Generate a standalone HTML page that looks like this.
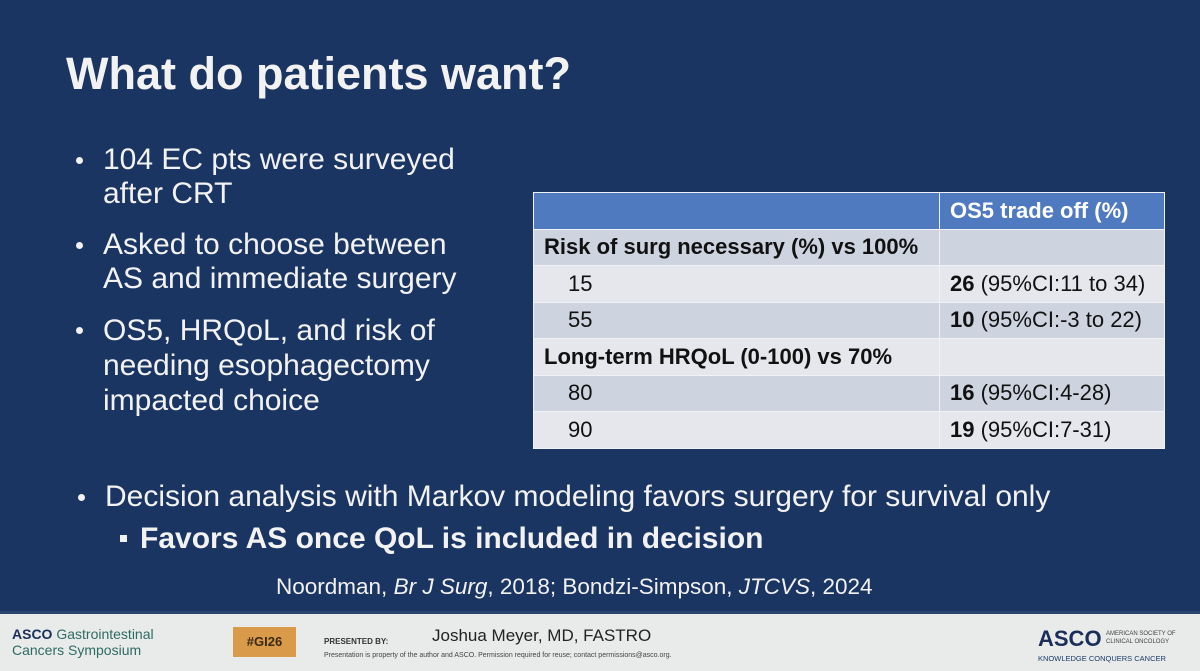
<!DOCTYPE html>
<html><head><meta charset="utf-8"><style>
*{margin:0;padding:0;box-sizing:border-box}
body{width:1200px;height:671px;overflow:hidden;background:#1b3563;font-family:"Liberation Sans",Arial,sans-serif;position:relative}
.a{position:absolute;white-space:nowrap}
.w{color:#f2f2f2}
.b{font-size:30px;line-height:34px}
.dot{position:absolute;width:7px;height:7px;border-radius:50%;background:#f2f2f2}
table{position:absolute;left:533px;top:192px;width:632px;border-collapse:collapse;font-size:22px;color:#111}
td{height:36.5px;border:1.5px solid #f0f2f6;padding:0 10px;vertical-align:middle}
</style></head><body>
<div class="a w" style="left:66px;top:48px;font-size:45px;font-weight:bold">What do patients want?</div>

<div class="dot" style="left:76px;top:157px"></div>
<div class="a w b" style="left:103px;top:143px">104 EC pts were surveyed<br>after CRT</div>
<div class="dot" style="left:76px;top:242px"></div>
<div class="a w b" style="left:103px;top:228px">Asked to choose between<br>AS and immediate surgery</div>
<div class="dot" style="left:76px;top:327px"></div>
<div class="a w b" style="left:103px;top:313px;line-height:35px">OS5, HRQoL, and risk of<br>needing esophagectomy<br>impacted choice</div>

<table>
<tr style="background:#4f7ac0"><td style="width:406px"></td><td style="color:#fff;font-weight:bold">OS5 trade off (%)</td></tr>
<tr style="background:#cdd3df"><td style="font-weight:bold">Risk of surg necessary (%) vs 100%</td><td></td></tr>
<tr style="background:#e5e7ed"><td style="padding-left:34px">15</td><td><b>26</b> (95%CI:11 to 34)</td></tr>
<tr style="background:#cdd3df"><td style="padding-left:34px">55</td><td><b>10</b> (95%CI:-3 to 22)</td></tr>
<tr style="background:#e5e7ed"><td style="font-weight:bold">Long-term HRQoL (0-100) vs 70%</td><td></td></tr>
<tr style="background:#cdd3df"><td style="padding-left:34px">80</td><td><b>16</b> (95%CI:4-28)</td></tr>
<tr style="background:#e5e7ed"><td style="padding-left:34px">90</td><td><b>19</b> (95%CI:7-31)</td></tr>
</table>

<div class="dot" style="left:78px;top:494px"></div>
<div class="a w b" style="left:105px;top:480px">Decision analysis with Markov modeling favors surgery for survival only</div>
<div class="a" style="left:120px;top:535px;width:7px;height:7px;background:#f2f2f2"></div>
<div class="a w b" style="left:140px;top:522px;font-weight:bold">Favors AS once QoL is included in decision</div>
<div class="a w" style="left:276px;top:574px;font-size:22.5px">Noordman, <i>Br J Surg</i>, 2018; Bondzi-Simpson, <i>JTCVS</i>, 2024</div>

<div class="a" style="left:0;top:611px;width:1200px;height:60px;background:#e8ebea;border-top:3px solid #2b4470">
<div class="a" style="left:12px;top:12px;font-size:14px;line-height:16px;color:#2e6b62"><b style="color:#1b2e5a">ASCO</b> Gastrointestinal<br>Cancers Symposium</div>
<div class="a" style="left:233px;top:13px;width:63px;height:30px;background:#d99a4a;font-size:13px;font-weight:bold;color:#3a2a10;text-align:center;line-height:30px">#GI26</div>
<div class="a" style="left:324px;top:23px;font-size:8px;font-weight:bold;color:#333">PRESENTED BY:</div>
<div class="a" style="left:432px;top:12px;font-size:17px;color:#222">Joshua Meyer, MD, FASTRO</div>
<div class="a" style="left:324px;top:38px;font-size:7px;color:#444">Presentation is property of the author and ASCO. Permission required for reuse; contact permissions@asco.org.</div>
<div class="a" style="left:1038px;top:12px;font-size:22px;font-weight:bold;color:#1b2e5a">ASCO</div>
<div class="a" style="left:1106px;top:16px;font-size:6px;line-height:8px;color:#444">AMERICAN SOCIETY OF<br>CLINICAL ONCOLOGY</div>
<div class="a" style="left:1038px;top:40px;font-size:7.5px;color:#1b3a6a">KNOWLEDGE CONQUERS CANCER</div>
</div>
</body></html>
